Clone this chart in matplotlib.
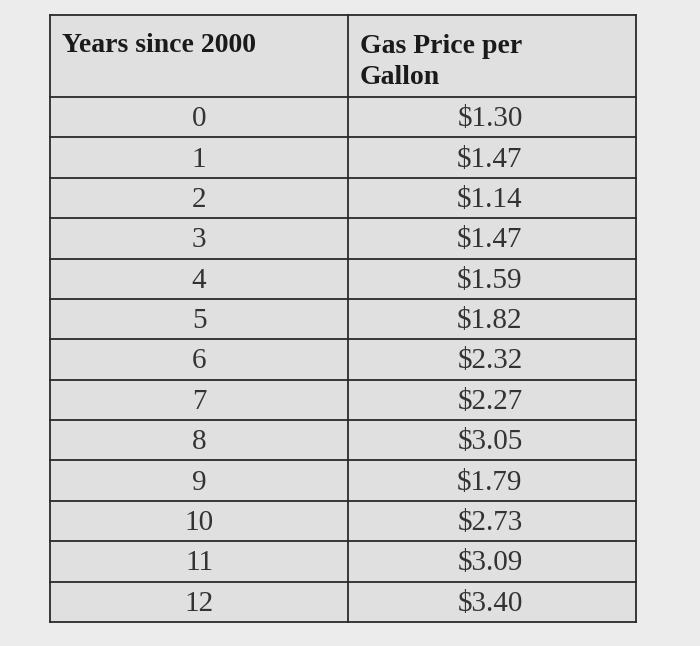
import matplotlib
matplotlib.use("Agg")
import matplotlib.pyplot as plt

years = [0,1,2,3,4,5,6,7,8,9,10,11,12]
prices = [1.30,1.47,1.14,1.47,1.59,1.82,2.32,2.27,3.05,1.79,2.73,3.09,3.40]
headers = ["Years since 2000", "Gas Price per\nGallon"]

W, H = 700, 646
fig = plt.figure(figsize=(W/100, H/100), dpi=100)
fig.patch.set_facecolor("#ececec")
ax = fig.add_axes([0,0,1,1])
ax.set_xlim(0, W); ax.set_ylim(H, 0); ax.axis("off")

left, mid, right = 50, 348, 636
top, hdr_bot, bot = 15, 97, 622
n = len(years)
rh = (bot - hdr_bot) / n

ax.add_patch(plt.Rectangle((left, top), right-left, bot-top, facecolor="#e0e0e0", edgecolor="none"))
lw = 1.3
col = "#2a2a2a"
for x in (left, mid, right):
    ax.plot([x, x], [top, bot], color=col, lw=lw)
ax.plot([left, right], [top, top], color=col, lw=lw)
ax.plot([left, right], [hdr_bot, hdr_bot], color=col, lw=lw)
for i in range(n):
    y = hdr_bot + (i+1)*rh
    ax.plot([left, right], [y, y], color=col, lw=lw)

fam = ["Liberation Serif", "DejaVu Serif"]
ax.text(62, 46, headers[0], fontsize=20, fontweight="bold", family=fam, va="center", ha="left", color="#1a1a1a")
ax.text(360, 62, headers[1], fontsize=20, fontweight="bold", family=fam, va="center", ha="left", color="#1a1a1a", linespacing=1.35)

for i, (yv, p) in enumerate(zip(years, prices)):
    yc = hdr_bot + (i+0.5)*rh + 2
    ax.text(199, yc, str(yv), fontsize=21, family=fam, va="center", ha="center", color="#333333")
    ax.text(490, yc, f"${p:.2f}", fontsize=21, family=fam, va="center", ha="center", color="#333333")

fig.savefig("out.png", dpi=100, facecolor=fig.get_facecolor())
